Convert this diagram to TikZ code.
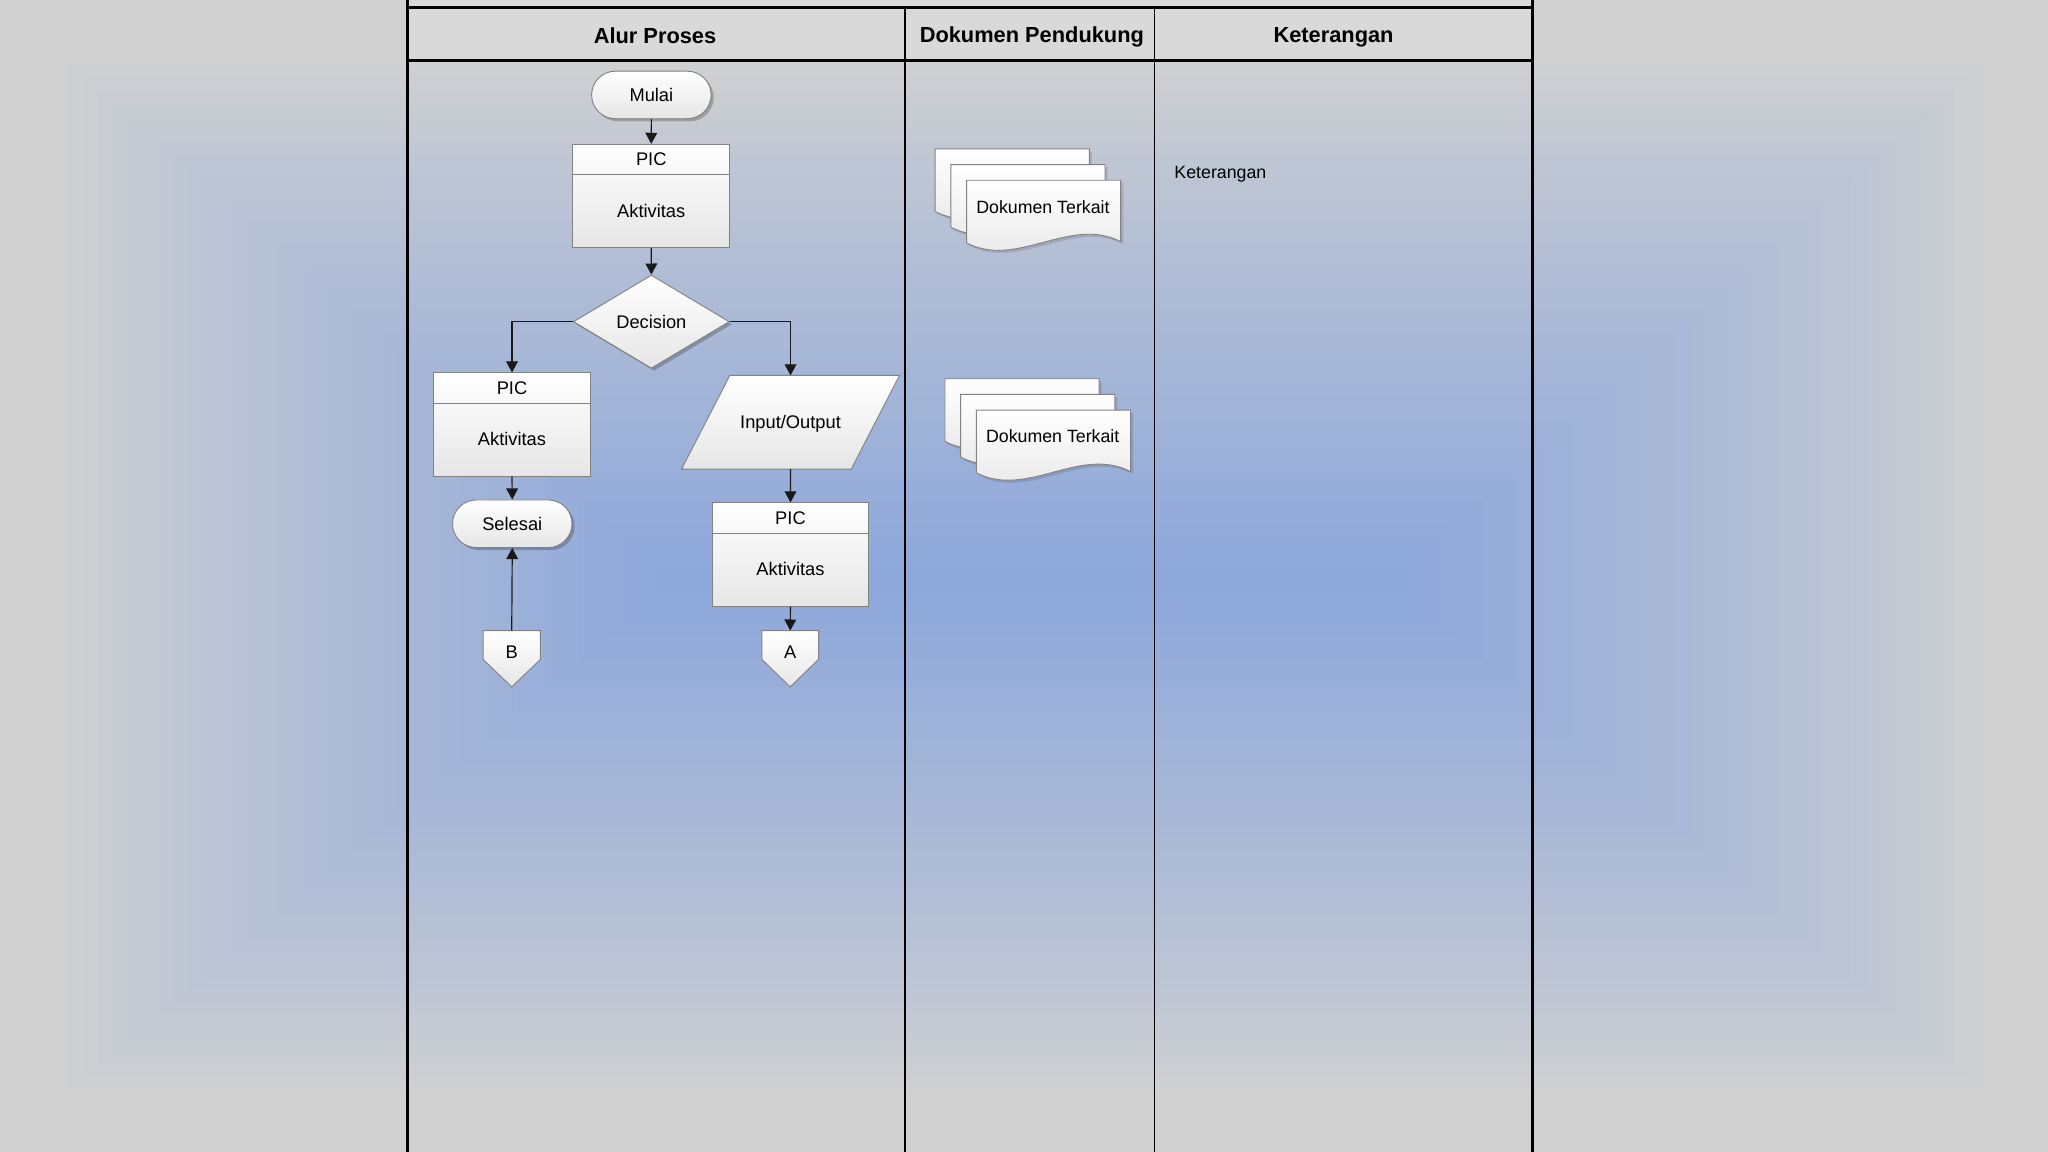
\documentclass[tikz,border=0pt]{standalone}
\usepackage{fontspec}
\setmainfont{Liberation Sans}
\usetikzlibrary{arrows.meta,shadows,calc,shapes.geometric,shapes.misc}
\definecolor{bggray}{RGB}{209,209,209}
\definecolor{bgblue}{RGB}{142,168,219}
\definecolor{hdrgray}{RGB}{217,217,217}
\definecolor{edgegray}{RGB}{130,130,130}
\definecolor{shapebot}{RGB}{230,230,230}
\definecolor{linedark}{RGB}{25,25,25}
\newcommand\docsheet[2]{%
  \path[fill=black,opacity=0.12] (#1+2,#2+2) -- (#1+120,#2+2) -- (#1+120,#2+49) .. controls (#1+81,#2+29) and (#1+41,#2+70) .. (#1+2,#2+50) -- cycle;
  \path[shapefill] (#1,#2) -- (#1+118,#2) -- (#1+118,#2+47) .. controls (#1+79,#2+27) and (#1+39,#2+68) .. (#1,#2+48) -- cycle;}
\begin{document}
\begin{tikzpicture}[x=1pt,y=-1pt,
  txt/.style={font=\fontsize{14}{16}\selectfont,inner sep=0pt},
  doctxt/.style={font=\fontsize{13.6}{16}\selectfont,inner sep=0pt},
  hdr/.style={font=\bfseries\fontsize{16.7}{18}\selectfont,inner sep=0pt,anchor=base},
  shapefill/.style={top color=white,bottom color=shapebot,draw=edgegray,line width=0.7pt},
  shad/.style={drop shadow={shadow xshift=2pt,shadow yshift=-2pt,opacity=0.22,fill=black}},
  term/.style={shapefill,shad,rounded rectangle,minimum width=91.5pt,minimum height=36.4pt,inner sep=0pt,font=\fontsize{14}{16}\selectfont},
  picbox/.style={shapefill,rectangle,minimum width=120pt,minimum height=79pt,inner sep=0pt},
  decbox/.style={shapefill,shad,diamond,aspect=1.67,minimum width=119.4pt,minimum height=71.4pt,inner sep=0pt,font=\fontsize{14}{16}\selectfont},
  ghost/.style={rectangle,inner sep=0pt},
  flow/.style={draw=linedark,line width=0.9pt,-{Triangle[length=8.5pt,width=9pt]}},
  outer/.style={line width=2.2pt,draw=black},
  inner/.style={line width=1.3pt,draw=black}]
\useasboundingbox (0,0) rectangle (1568,882);
% background
\fill[bggray] (0,0) rectangle (1568,882);
\foreach \i in {0,...,40}{
  \pgfmathsetmacro\t{\i/40}
  \pgfmathsetmacro\pct{100*(\t^0.85)}
  \pgfmathsetmacro\xa{40+460*\t}
  \pgfmathsetmacro\xb{1530-450*\t}
  \pgfmathsetmacro\ya{40+392*\t}
  \pgfmathsetmacro\yb{845-387*\t}
  \fill[bgblue!\pct!bggray] (\xa,\ya) rectangle (\xb,\yb);
}
% table
\fill[hdrgray] (312,0) rectangle (1173,46.5);
\draw[line width=2pt] (312,5.6) -- (1173,5.6);
\draw[line width=2pt] (312,46.5) -- (1173,46.5);
\draw[inner] (693,5.6) -- (693,882);
\draw[inner] (884,5.6) -- (884,882);
\draw[outer] (312,0) -- (312,882);
\draw[outer] (1173,0) -- (1173,882);
\node[hdr] (h1) at (501.5,33.2) {Alur Proses};
\node[hdr] (h2) at (790,32.5) {Dokumen Pendukung};
\node[hdr] (h3) at (1021,32.5) {Keterangan};
% flow nodes
\node[term] (mulai) at (498.7,72.7) {Mulai};
\node[picbox] (p1) at (498.6,150) {};
\draw[edgegray,line width=0.7pt] ($(p1.north west)+(0,23.5)$) -- ($(p1.north east)+(0,23.5)$);
\node[txt] (p1a) at ($(p1.north)+(0,11.8)$) {PIC};
\node[txt] (p1b) at ($(p1.north)+(0,51)$) {Aktivitas};
\node[decbox] (dec) at (498.7,246.3) {Decision};
\node[picbox] (p2) at (392,325) {};
\draw[edgegray,line width=0.7pt] ($(p2.north west)+(0,24)$) -- ($(p2.north east)+(0,24)$);
\node[txt] (p2a) at ($(p2.north)+(0,12)$) {PIC};
\node[txt] (p2b) at ($(p2.north)+(0,51)$) {Aktivitas};
\node[term] (sel) at (392.2,401) {Selesai};
% input/output
\node[ghost,minimum width=166.5pt,minimum height=71.4pt] (io) at (605.25,323.3) {};
\path[shapefill] ($(io.north west)+(37,0)$) -- (io.north east) -- ($(io.south east)+(-37,0)$) -- (io.south west) -- cycle;
\node[txt] (iot) at (605.25,324.5) {Input/Output};
\node[picbox] (p3) at (605.2,424.5) {};
\draw[edgegray,line width=0.7pt] ($(p3.north west)+(0,24)$) -- ($(p3.north east)+(0,24)$);
\node[txt] (p3a) at ($(p3.north)+(0,12)$) {PIC};
\node[txt] (p3b) at ($(p3.north)+(0,51)$) {Aktivitas};
% off-page connectors
\node[ghost,minimum width=43pt,minimum height=42.7pt] (A) at (605,504.35) {};
\path[shapefill] (A.north west) -- (A.north east) -- ($(A.north east)+(0,22)$) -- (A.south) -- ($(A.north west)+(0,22)$) -- cycle;
\node[txt] (At) at (605,499) {A};
\node[ghost,minimum width=43.5pt,minimum height=42.7pt] (B) at (391.8,504.35) {};
\path[shapefill] (B.north west) -- (B.north east) -- ($(B.north east)+(0,22)$) -- (B.south) -- ($(B.north west)+(0,22)$) -- cycle;
\node[txt] (Bt) at (391.8,499) {B};
% connectors
\draw[flow] (mulai.south) -- (p1.north);
\draw[flow] (p1.south) -- (dec.north);
\draw[flow] (dec.west) -| (p2.north);
\draw[flow] (dec.east) -| (io.north);
\draw[flow] (p2.south) -- (sel.north);
\draw[flow] (io.south) -- (p3.north);
\draw[flow] (p3.south) -- (A.north);
\draw[flow] (B.north) -- (sel.south);
% documents
\docsheet{716}{114}
\docsheet{728}{126}
\docsheet{740}{138}
\node[doctxt] (d1) at (798.5,158.5) {Dokumen Terkait};
\docsheet{723.5}{290}
\docsheet{735.5}{302}
\docsheet{747.5}{314}
\node[doctxt] (d2) at (806,334) {Dokumen Terkait};
% notes
\node[doctxt,anchor=base west] (ket) at (899,137) {Keterangan};
\end{tikzpicture}
\end{document}
